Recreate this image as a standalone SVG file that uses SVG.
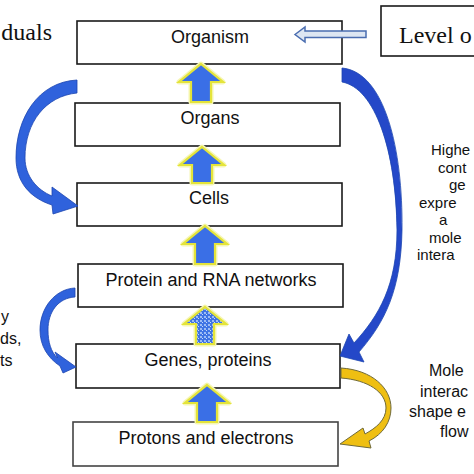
<svg xmlns="http://www.w3.org/2000/svg" width="474" height="474" viewBox="0 0 474 474">
<defs>
<style>
.box{fill:#fff;stroke:#1a1a1a;stroke-width:1.6}
.lbl{font-family:"Liberation Sans",Arial,sans-serif;font-size:18px;fill:#111;text-anchor:middle}
.side{font-family:"Liberation Sans",Arial,sans-serif;font-size:16px;fill:#111}
.side2{font-family:"Liberation Sans",Arial,sans-serif;font-size:15px;fill:#111}
.serif{font-family:"Liberation Serif","Times New Roman",serif;font-size:24px;fill:#111}
.up{fill:#3a6fe6;stroke:#e4e43a;stroke-width:2.2;stroke-linejoin:miter}
.upglow{fill:none;stroke:#f6f6b4;stroke-width:5;stroke-linejoin:round}
.blue{fill:#2f62dc;stroke:#1c45b0;stroke-width:0.8}
.gold{fill:#efbf12;stroke:#6f6a3a;stroke-width:1}
</style>
<pattern id="spk" width="4" height="4" patternUnits="userSpaceOnUse">
<rect width="4" height="4" fill="#3f74e4"/>
<rect x="0" y="0" width="2" height="2" fill="#9dbcf4"/>
<rect x="2" y="2" width="1" height="1" fill="#c8dafa"/>
</pattern>
</defs>
<rect width="474" height="474" fill="#fff"/>

<g id="organism"><rect class="box" x="77" y="21" width="265" height="43"/><text class="lbl" x="210" y="43">Organism</text></g>
<g id="organs"><rect class="box" x="75" y="103" width="265" height="43"/><text class="lbl" x="210" y="124">Organs</text></g>
<g id="cells"><rect class="box" x="77" y="183" width="265" height="43"/><text class="lbl" x="209" y="204">Cells</text></g>
<g id="networks"><rect class="box" x="78" y="264" width="265" height="43"/><text class="lbl" x="211" y="286">Protein and RNA networks</text></g>
<g id="genes"><rect class="box" x="76" y="344" width="264" height="44"/><text class="lbl" x="208" y="366">Genes, proteins</text></g>
<g id="protons"><rect class="box" style="stroke:#444" x="73" y="422" width="265" height="44"/><text class="lbl" x="206" y="444">Protons and electrons</text></g>
<g id="level"><rect class="box" x="381" y="6" width="100" height="50"/><text class="serif" x="399" y="43">Level o</text></g>

<g id="connectors">
<path class="blue" d="M77,80 C38,82 16,118 16,158 C16,182 30,198 52,205 L53,214 L78,206 L52,187 L52,196 C37,190 25,176 25,158 C25,122 46,96 77,93 Z"/>
<path class="blue" style="fill:#2448c8" d="M342,68 C385,72 403,150 402,230 C401,290 385,322 359,352 L364,362 L340,356 L349,334 L354,343 C379,316 397,285 397,230 C396,150 375,88 342,82 Z"/>
<path class="blue" d="M75,288 C55,289 40,308 40,330 C40,346 48,358 60,366 L63,373 L76,367 L55,352 L57.5,358 C51,352 48,342 48,330 C48,312 58,298 75,297 Z"/>
<path class="gold" d="M341,368 C372,370 391,388 391,408 C391,422 383,434 369,441 L371,448 L340,444 L363,428 L365,434 C376,428 386,420 386,408 C386,392 368,380 341,378 Z"/>
<path d="M295,34.5 L305,27 L305,31 L366,31 L366,37.5 L305,37.5 L305,42 Z" fill="#dde6f2" stroke="#4a6db0" stroke-width="1.5"/>
</g>

<g id="up-arrows">
<path class="upglow" d="M201,64 L223,82 L211,82 L211,102 L191,102 L191,82 L179,82 Z"/>
<path class="up" d="M201,64 L223,82 L211,82 L211,102 L191,102 L191,82 L179,82 Z"/>
<path class="upglow" d="M202,147 L224,165 L212,165 L212,183 L192,183 L192,165 L180,165 Z"/>
<path class="up" d="M202,147 L224,165 L212,165 L212,183 L192,183 L192,165 L180,165 Z"/>
<path class="upglow" d="M205,226 L227,244 L215,244 L215,264 L195,264 L195,244 L183,244 Z"/>
<path class="up" d="M205,226 L227,244 L215,244 L215,264 L195,264 L195,244 L183,244 Z"/>
<path class="upglow" d="M205,307 L226,324 L214,324 L214,344 L196,344 L196,324 L184,324 Z"/>
<path class="up" style="fill:url(#spk)" d="M205,307 L226,324 L214,324 L214,344 L196,344 L196,324 L184,324 Z"/>
<path class="upglow" d="M207,385 L229,403 L217,403 L217,422 L197,422 L197,403 L185,403 Z"/>
<path class="up" d="M207,385 L229,403 L217,403 L217,422 L197,422 L197,403 L185,403 Z"/>
</g>

<g id="texts">
<text class="serif" x="52" y="40" text-anchor="end">duals</text>
<text class="side" x="1" y="322">y</text>
<text class="side" x="0" y="344">ds,</text>
<text class="side" x="0" y="366">ts</text>
<text class="side2" x="431" y="155">Highe</text>
<text class="side2" x="438" y="172.5">cont</text>
<text class="side2" x="449" y="190">ge</text>
<text class="side2" x="419" y="207.5">expre</text>
<text class="side2" x="439" y="225">a</text>
<text class="side2" x="429" y="242.5">mole</text>
<text class="side2" x="417" y="260">intera</text>
<text class="side" x="429" y="376">Mole</text>
<text class="side" x="420" y="397">interac</text>
<text class="side" x="409" y="417">shape e</text>
<text class="side" x="440" y="437">flow</text>
</g>
</svg>
